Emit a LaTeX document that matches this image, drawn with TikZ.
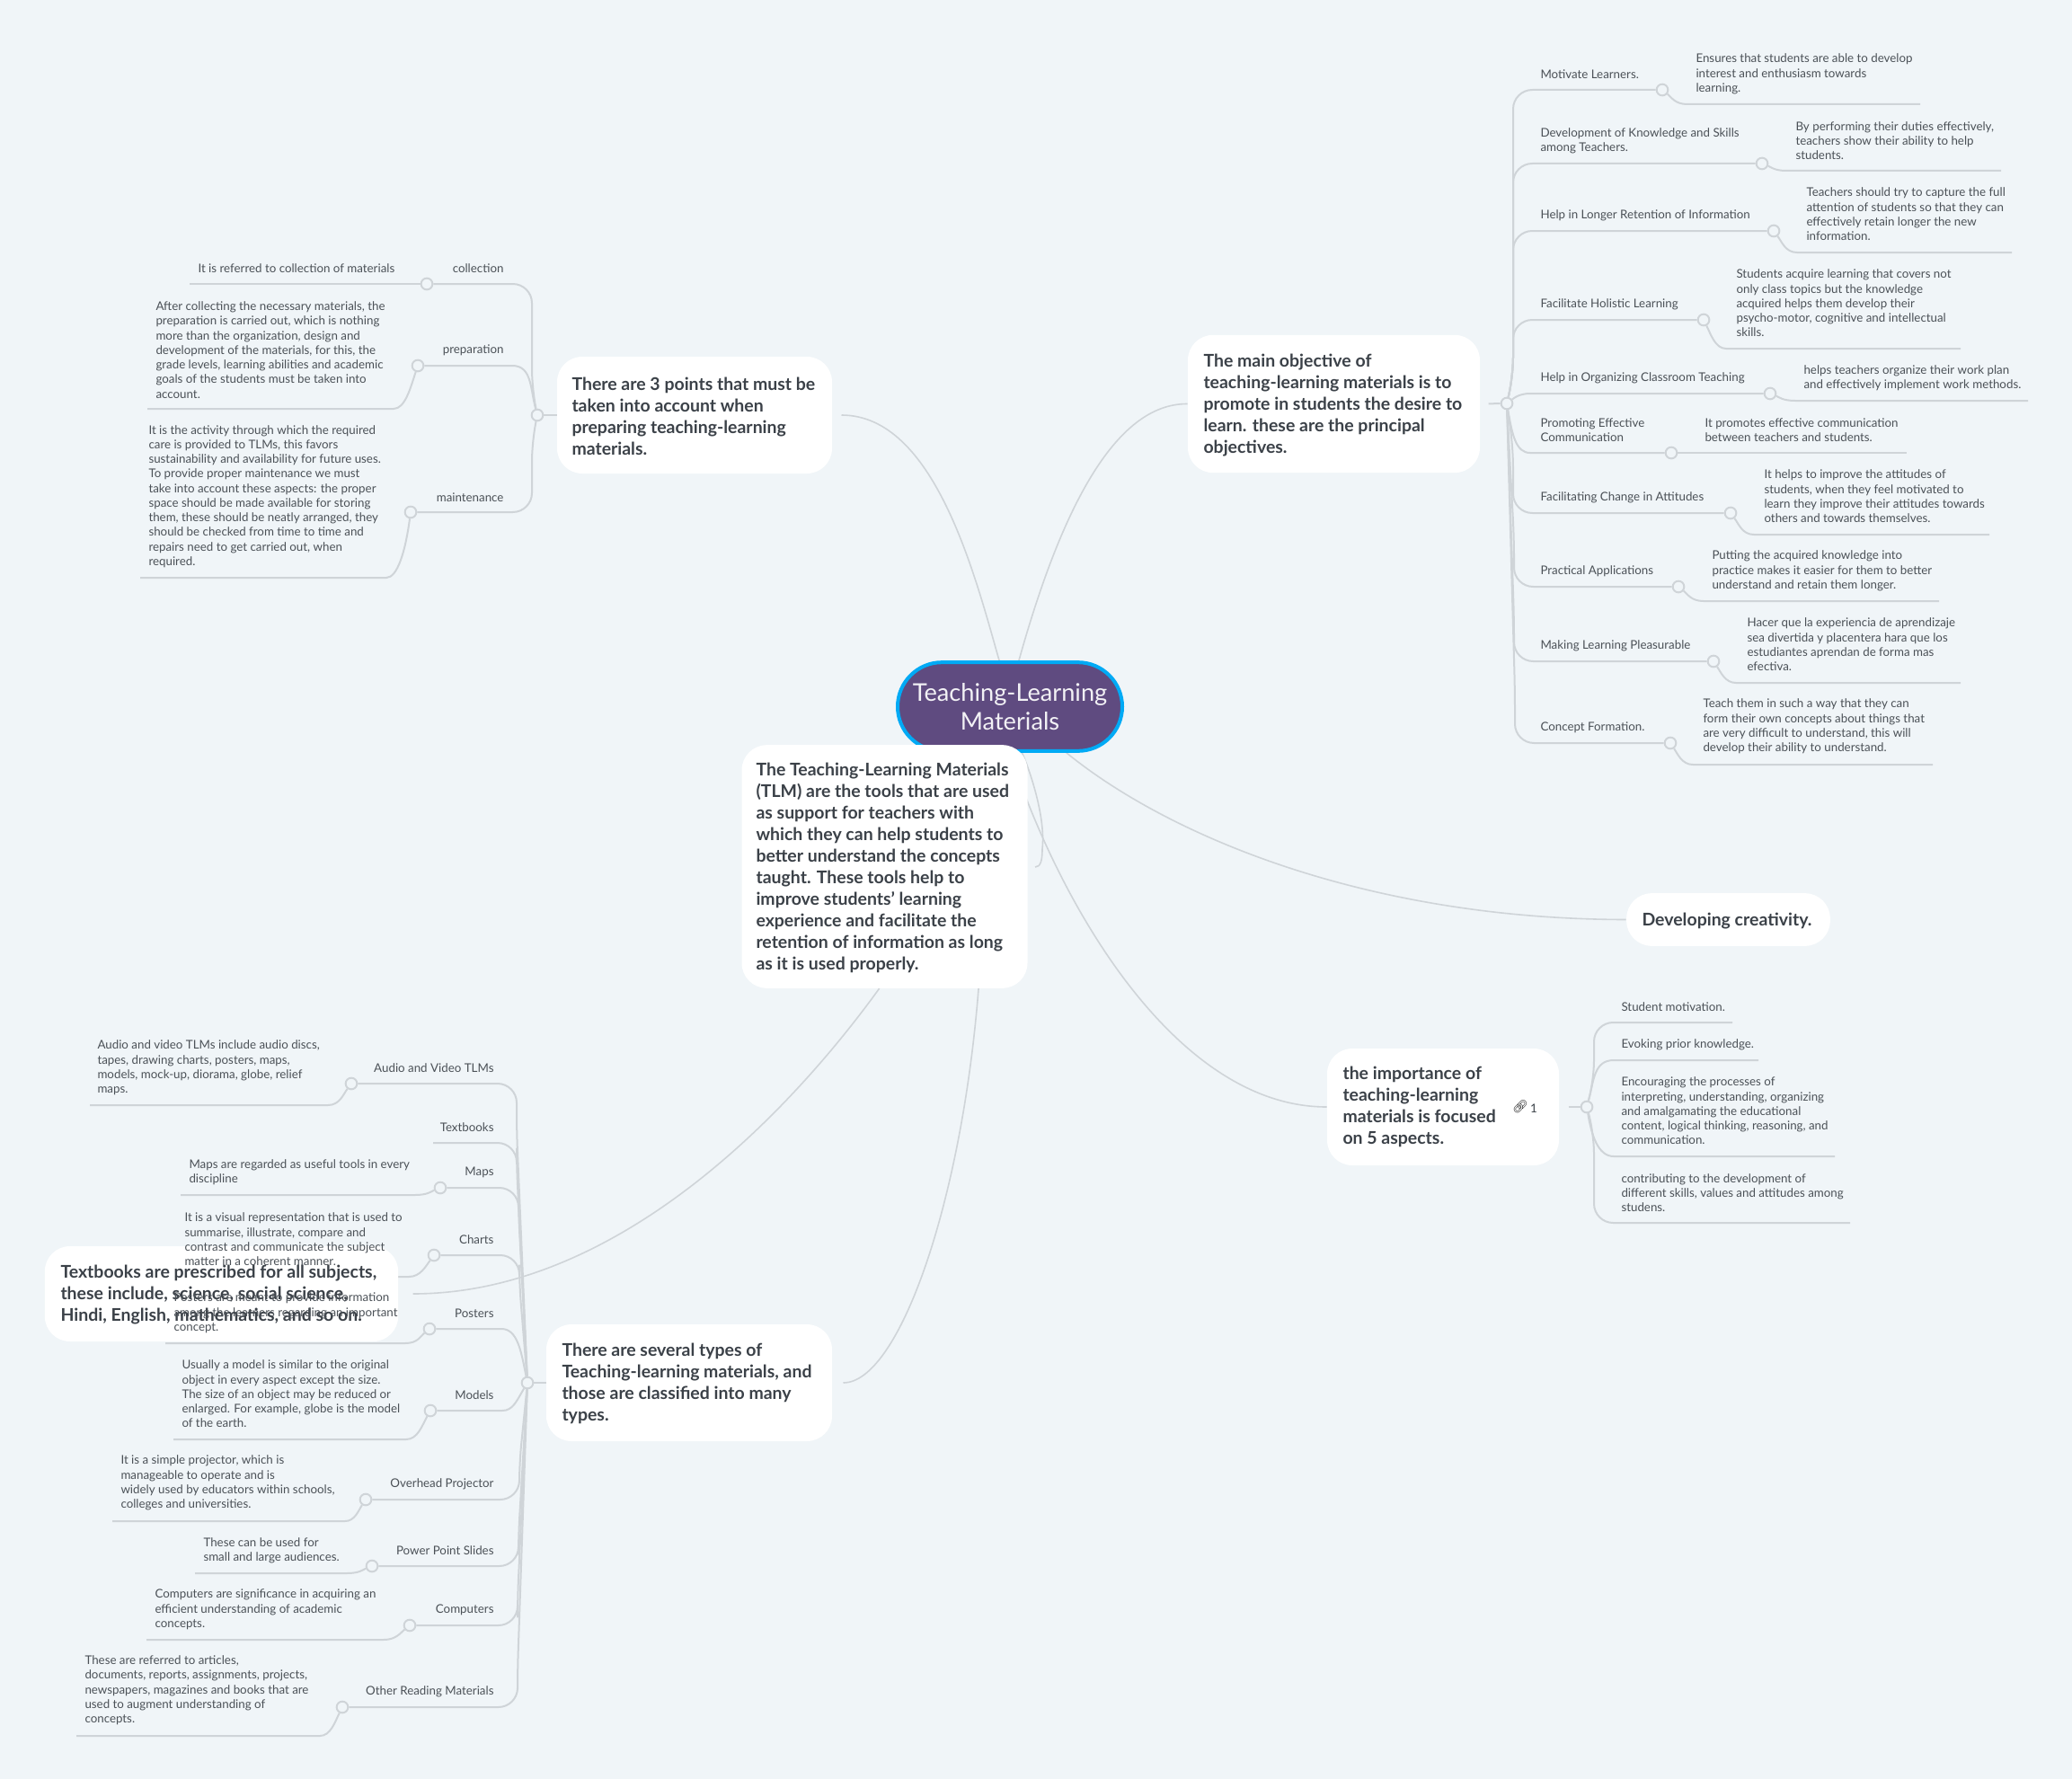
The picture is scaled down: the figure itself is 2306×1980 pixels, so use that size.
\documentclass[tikz,border=0pt]{standalone}
\usepackage{fontspec}
\setmainfont{Lato}
\newfontfamily\emojifont{Noto Emoji}
\usetikzlibrary{backgrounds}
\definecolor{paper}{HTML}{F0F5F8}
\definecolor{wire}{HTML}{CFD4D8}
\definecolor{ink}{HTML}{3B4148}
\definecolor{inksoft}{HTML}{4B5157}
\definecolor{rootfill}{HTML}{5F4B80}
\definecolor{rootedge}{HTML}{00AAF5}
\tikzset{every picture/.style={line width=0.75pt},
	branch/.style={draw=wire,line width=1.5pt},
	trunk/.style={branch,rounded corners=16pt},
	main/.style={draw=wire,line width=1.2pt},
	joint/.style={circle,draw=wire,line width=1.5pt,fill=paper,minimum size=9.5pt,inner sep=0pt},
	leaf/.style={text=inksoft,font=\fontsize{10}{12.2}\selectfont,align=left,inner sep=0pt,yshift=-1.1pt},
	label/.style={leaf,anchor=west},
	labelr/.style={leaf,anchor=east,align=right},
	topic/.style={fill=white,rounded corners=21pt,inner sep=0pt},
	caption/.style={anchor=west,text=ink,inner sep=0pt,align=left,yshift=-0.9pt,font=\fontsize{14.6}{18}\selectfont\bfseries}}

\begin{document}
\begin{tikzpicture}[x=0.75pt,y=0.75pt,yscale=-1,xscale=1]
	\useasboundingbox (0,0) rectangle (2306,1980);

	% Root Node
	\node [rounded corners=37pt,fill=rootfill,draw=rootedge,line width=3pt,minimum width=187.5pt,minimum height=74pt,align=center,text=white!92!rootfill,font=\fontsize{20.4}{24}\selectfont] (rootNode) at (1124,786.5) {Teaching-Learning\\Materials};

	% Topic Nodes
	\node [topic,minimum width=243.75pt,minimum height=115pt] (boxObj) at (1484.5,449.5) {};
	\node [topic,minimum width=229.5pt,minimum height=97.5pt] (boxPts) at (773,462) {};
	\node [topic,minimum width=238.5pt,minimum height=203pt] (boxTlm) at (984.5,964.5) {};
	\node [topic,minimum width=170pt,minimum height=44pt] (boxCre) at (1923.5,1023.5) {};
	\node [topic,minimum width=193.5pt,minimum height=97.5pt] (boxImp) at (1606,1232) {};
	\node [topic,minimum width=238.5pt,minimum height=97.5pt] (boxTyp) at (767,1539) {};
	\node [topic,minimum width=295pt,minimum height=79.5pt] (boxBks) at (246.5,1440) {};

	% Text Node
	\node [caption] (capObj) at (1339,450) {The main objective of\\teaching-learning materials is to\\promote in students the desire to\\learn. these are the principal\\objectives.};
	\node [caption] (capPts) at (636,462) {There are 3 points that must be\\taken into account when\\preparing teaching-learning\\materials.};
	\node [caption] (capTlm) at (841,964.5) {The Teaching-Learning Materials\\(TLM) are the tools that are used\\as support for teachers with\\which they can help students to\\better understand the concepts\\taught. These tools help to\\improve students' learning\\experience and facilitate the\\retention of information as long\\as it is used properly.};
	\node [caption] (capCre) at (1827,1023.5) {Developing creativity.};
	\node [caption] (capImp) at (1494,1231) {the importance of\\teaching-learning\\materials is focused\\on 5 aspects.};
	\node [caption] (capTyp) at (625,1539) {There are several types of\\Teaching-learning materials, and\\those are classified into many\\types.};
	\node [caption] (capBks) at (67,1440) {Textbooks are prescribed for all subjects,\\these include, science, social science,\\Hindi, English, mathematics, and so on.};

	% Link Marker
	\node [text=black!85,font=\fontsize{10.5}{12}\selectfont\emojifont,inner sep=0pt] (linkIcon) at (1692,1232) {🔗};
	\node [leaf,text=ink] (linkCount) at (1707,1232) {1};

	% Hub Nodes
	\node [joint] (hubObj) at (1677,449) {};
	\node [joint] (hubPts) at (598,462) {};
	\node [joint] (hubImp) at (1766,1232) {};
	\node [joint] (hubTyp) at (587,1539) {};

	% Joint Nodes
	\node [joint] (dotMotivate) at (1850,100) {};
	\node [joint] (dotDevelop) at (1961,182) {};
	\node [joint] (dotRetain) at (1974,257) {};
	\node [joint] (dotHolistic) at (1896,356) {};
	\node [joint] (dotOrganize) at (1970,438) {};
	\node [joint] (dotPromote) at (1860,504) {};
	\node [joint] (dotChange) at (1926,571) {};
	\node [joint] (dotPractical) at (1868,653) {};
	\node [joint] (dotPleasure) at (1907,736) {};
	\node [joint] (dotConcept) at (1859,827) {};
	\node [joint] (dotCollect) at (475,316) {};
	\node [joint] (dotPrepare) at (465,407) {};
	\node [joint] (dotMaintain) at (457,570) {};
	\node [joint] (dotAudio) at (391,1206) {};
	\node [joint] (dotMaps) at (490,1322) {};
	\node [joint] (dotCharts) at (483,1397) {};
	\node [joint] (dotPosters) at (478,1479) {};
	\node [joint] (dotModels) at (479,1570) {};
	\node [joint] (dotOverhead) at (407,1669) {};
	\node [joint] (dotSlides) at (414,1743) {};
	\node [joint] (dotComputers) at (456,1809) {};
	\node [joint] (dotReading) at (381,1900) {};

	% Free Line Ends
	\coordinate (endMotivate) at (2137,116);
	\coordinate (endDevelop) at (2227,190);
	\coordinate (endRetain) at (2239,281);
	\coordinate (endHolistic) at (2182,388);
	\coordinate (endOrganize) at (2257,446);
	\coordinate (endPromote) at (2122,504);
	\coordinate (endChange) at (2214,595);
	\coordinate (endPractical) at (2158,669);
	\coordinate (endPleasure) at (2182,760);
	\coordinate (endConcept) at (2151,851);
	\coordinate (endCollect) at (211,316);
	\coordinate (endPrepare) at (164,455);
	\coordinate (endMaintain) at (156,643);
	\coordinate (endAudio) at (100,1230);
	\coordinate (endBooks) at (482,1272);
	\coordinate (endMaps) at (201,1330);
	\coordinate (endCharts) at (196,1421);
	\coordinate (endPosters) at (184,1495);
	\coordinate (endModels) at (193,1602);
	\coordinate (endOverhead) at (125,1693);
	\coordinate (endSlides) at (217,1751);
	\coordinate (endComputers) at (163,1825);
	\coordinate (endReading) at (85,1932);
	\coordinate (endMotiv) at (1928,1138);
	\coordinate (endEvoke) at (1957,1180);
	\coordinate (endEncourage) at (2042,1287);
	\coordinate (endSkills) at (2059,1361);
	\coordinate (endHook) at (1152,965);

	% Text Node
	\node [label] (txtMotivate) at (1714,81) {Motivate Learners.};
	\node [label] (subMotivate) at (1887,81) {Ensures that students are able to develop\\interest and enthusiasm towards\\learning.};
	\node [label] (txtDevelop) at (1714,155) {Development of Knowledge and Skills\\among Teachers.};
	\node [label] (subDevelop) at (1998,155) {By performing their duties effectively,\\teachers show their ability to help\\students.};
	\node [label] (txtRetain) at (1714,238) {Help in Longer Retention of Information};
	\node [label] (subRetain) at (2010,237) {Teachers should try to capture the full\\attention of students so that they can\\effectively retain longer the new\\information.};
	\node [label] (txtHolistic) at (1714,337) {Facilitate Holistic Learning};
	\node [label] (subHolistic) at (1932,336) {Students acquire learning that covers not\\only class topics but the knowledge\\acquired helps them develop their\\psycho-motor, cognitive and intellectual\\skills.};
	\node [label] (txtOrganize) at (1714,419) {Help in Organizing Classroom Teaching};
	\node [label] (subOrganize) at (2007,419) {helps teachers organize their work plan\\and effectively implement work methods.};
	\node [label] (txtPromote) at (1714,477) {Promoting Effective\\Communication};
	\node [label] (subPromote) at (1897,477) {It promotes effective communication\\between teachers and students.};
	\node [label] (txtChange) at (1714,552) {Facilitating Change in Attitudes};
	\node [label] (subChange) at (1963,551) {It helps to improve the attitudes of\\students, when they feel motivated to\\learn they improve their attitudes towards\\others and towards themselves.};
	\node [label] (txtPractical) at (1714,634) {Practical Applications};
	\node [label] (subPractical) at (1905,634) {Putting the acquired knowledge into\\practice makes it easier for them to better\\understand and retain them longer.};
	\node [label] (txtPleasure) at (1714,717) {Making Learning Pleasurable};
	\node [label] (subPleasure) at (1944,716) {Hacer que la experiencia de aprendizaje\\sea divertida y placentera hara que los\\estudiantes aprendan de forma mas\\efectiva.};
	\node [label] (txtConcept) at (1714,808) {Concept Formation.};
	\node [label] (subConcept) at (1895,807) {Teach them in such a way that they can\\form their own concepts about things that\\are very difficult to understand, this will\\develop their ability to understand.};
	\node [labelr] (txtCollect) at (561,297) {collection};
	\node [label] (subCollect) at (220,297) {It is referred to collection of materials};
	\node [labelr] (txtPrepare) at (561,388) {preparation};
	\node [label] (subPrepare) at (173,388) {After collecting the necessary materials, the\\preparation is carried out, which is nothing\\more than the organization, design and\\development of the materials, for this, the\\grade levels, learning abilities and academic\\goals of the students must be taken into\\account.};
	\node [labelr] (txtMaintain) at (561,552) {maintenance};
	\node [label] (subMaintain) at (165,551) {It is the activity through which the required\\care is provided to TLMs, this favors\\sustainability and availability for future uses.\\To provide proper maintenance we must\\take into account these aspects: the proper\\space should be made available for storing\\them, these should be neatly arranged, they\\should be checked from time to time and\\repairs need to get carried out, when\\required.};
	\node [labelr] (txtAudio) at (550,1187) {Audio and Video TLMs};
	\node [label] (subAudio) at (108,1187) {Audio and video TLMs include audio discs,\\tapes, drawing charts, posters, maps,\\models, mock-up, diorama, globe, relief\\maps.};
	\node [labelr] (txtBooks) at (550,1253) {Textbooks};
	\node [labelr] (txtMaps) at (550,1303) {Maps};
	\node [label] (subMaps) at (210,1303) {Maps are regarded as useful tools in every\\discipline};
	\node [labelr] (txtCharts) at (550,1378) {Charts};
	\node [label] (subCharts) at (205,1378) {It is a visual representation that is used to\\summarise, illustrate, compare and\\contrast and communicate the subject\\matter in a coherent manner.};
	\node [labelr] (txtPosters) at (550,1460) {Posters};
	\node [label] (subPosters) at (193,1460) {Posters are meant to provide information\\among the learners regarding an important\\concept.};
	\node [labelr] (txtModels) at (550,1551) {Models};
	\node [label] (subModels) at (202,1550) {Usually a model is similar to the original\\object in every aspect except the size.\\The size of an object may be reduced or\\enlarged. For example, globe is the model\\of the earth.};
	\node [labelr] (txtOverhead) at (550,1650) {Overhead Projector};
	\node [label] (subOverhead) at (134,1649) {It is a simple projector, which is\\manageable to operate and is\\widely used by educators within schools,\\colleges and universities.};
	\node [labelr] (txtSlides) at (550,1724) {Power Point Slides};
	\node [label] (subSlides) at (226,1724) {These can be used for\\small and large audiences.};
	\node [labelr] (txtComputers) at (550,1790) {Computers};
	\node [label] (subComputers) at (172,1790) {Computers are significance in acquiring an\\efficient understanding of academic\\concepts.};
	\node [labelr] (txtReading) at (550,1881) {Other Reading Materials};
	\node [label] (subReading) at (94,1880) {These are referred to articles,\\documents, reports, assignments, projects,\\newspapers, magazines and books that are\\used to augment understanding of\\concepts.};
	\node [label] (txtMotiv) at (1804,1119) {Student motivation.};
	\node [label] (txtEvoke) at (1804,1161) {Evoking prior knowledge.};
	\node [label] (txtEncourage) at (1804,1235) {Encouraging the processes of\\interpreting, understanding, organizing\\and amalgamating the educational\\content, logical thinking, reasoning, and\\communication.};
	\node [label] (txtSkills) at (1804,1326) {contributing to the development of\\different skills, values and attitudes among\\studens.};

	\begin{scope}[on background layer]
		\fill [paper] (0,0) rectangle (2306,1980);

		%Curve Lines
		\draw [main] (boxPts.east) ++(10,0) .. controls (1040,462) and (1085,640) .. (1112,735) -- (rootNode);
		\draw [main] (boxObj.west) .. controls (1240,449) and (1180,570) .. (1134,735) -- (rootNode);
		\draw [main] (rootNode) .. controls (1135,830) and (1165,900) .. (1160,945) .. controls (1160,958) and (1158,965) .. (endHook);
		\draw [main] (rootNode) .. controls (1300,930) and (1520,1023) .. (boxCre.west);
		\draw [main] (rootNode.south) .. controls (1180,1010) and (1310,1232) .. (boxImp.west);
		\draw [main] (boxBks.east) ++(16,0) .. controls (680,1440) and (870,1250) .. (978,1101) -- (rootNode);
		\draw [main] (boxTyp.east) ++(12,0) .. controls (1000,1539) and (1070,1340) .. (1089,1101) -- (rootNode);

		%Straight Lines
		\draw [branch,shorten <=6.75pt] (boxObj.east) -- (hubObj);
		\draw [branch] (boxPts.west) -- (hubPts);
		\draw [branch,shorten <=7.5pt] (boxImp.east) -- (hubImp);
		\draw [branch] (boxTyp.west) -- (hubTyp);

		%Branch Lines
		\draw [trunk] (hubObj) -- ++(7,-30) |- (dotMotivate);
		\draw [trunk] (hubObj) -- ++(7,-30) |- (dotDevelop);
		\draw [trunk] (hubObj) -- ++(7,-30) |- (dotRetain);
		\draw [trunk] (hubObj) -- ++(7,-30) |- (dotHolistic);
		\draw [branch] (hubObj) .. controls +(8,-6) and +(-12,0) .. (1703,438) -- (dotOrganize);
		\draw [branch] (hubObj) .. controls +(6,35) and +(-16,0) .. (1703,504) -- (dotPromote);
		\draw [trunk] (hubObj) -- ++(7,50) |- (dotChange);
		\draw [trunk] (hubObj) -- ++(8,150) |- (dotPractical);
		\draw [trunk] (hubObj) -- ++(8,240) |- (dotPleasure);
		\draw [trunk] (hubObj) -- ++(9,320) |- (dotConcept);

		\draw [branch] (dotMotivate) .. controls +(10,8) and +(-14,0) .. (1878,116) -- (endMotivate);
		\draw [branch] (dotDevelop) .. controls +(10,4) and +(-13,0) .. (1988,190) -- (endDevelop);
		\draw [branch] (dotRetain) .. controls +(9,12) and +(-13,0) .. (2000,281) -- (endRetain);
		\draw [branch] (dotHolistic) .. controls +(8,16) and +(-12,0) .. (1921,388) -- (endHolistic);
		\draw [branch] (dotOrganize) .. controls +(10,4) and +(-14,0) .. (1998,446) -- (endOrganize);
		\draw [branch] (dotPromote) -- (endPromote);
		\draw [branch] (dotChange) .. controls +(9,12) and +(-13,0) .. (1952,595) -- (endChange);
		\draw [branch] (dotPractical) .. controls +(10,8) and +(-14,0) .. (1896,669) -- (endPractical);
		\draw [branch] (dotPleasure) .. controls +(8,12) and +(-12,0) .. (1932,760) -- (endPleasure);
		\draw [branch] (dotConcept) .. controls +(8,12) and +(-12,0) .. (1884,851) -- (endConcept);

		\draw [trunk] (hubPts) -- ++(-6,-30) |- (dotCollect);
		\draw [branch] (hubPts) .. controls +(-8,-30) and +(22,0) .. (570,407) -- (dotPrepare);
		\draw [trunk] (hubPts) -- ++(-6,30) |- (dotMaintain);
		\draw [branch] (dotCollect) -- (endCollect);
		\draw [branch] (dotPrepare) .. controls +(-8,24) and +(13,0) .. (438,455) -- (endPrepare);
		\draw [branch] (dotMaintain) .. controls +(-6,45) and +(12,0) .. (430,643) -- (endMaintain);

		\draw [trunk] (hubTyp) -- ++(-12,-280) |- (dotAudio);
		\draw [trunk] (hubTyp) -- ++(-12,-240) |- (endBooks);
		\draw [trunk] (hubTyp) -- ++(-10,-190) |- (dotMaps);
		\draw [trunk] (hubTyp) -- ++(-9,-110) |- (dotCharts);
		\draw [branch] (hubTyp) .. controls +(-7,-35) and +(18,0) .. (558,1479) -- (dotPosters);
		\draw [branch] (hubTyp) .. controls +(-12,20) and +(12,0) .. (559,1570) -- (dotModels);
		\draw [trunk] (hubTyp) -- ++(-9,90) |- (dotOverhead);
		\draw [trunk] (hubTyp) -- ++(-10,170) |- (dotSlides);
		\draw [trunk] (hubTyp) -- ++(-11,240) |- (dotComputers);
		\draw [trunk] (hubTyp) -- ++(-11,320) |- (dotReading);

		\draw [branch] (dotAudio) .. controls +(-9,12) and +(13,0) .. (365,1230) -- (endAudio);
		\draw [branch] (dotMaps) .. controls +(-10,4) and +(14,0) .. (462,1330) -- (endMaps);
		\draw [branch] (dotCharts) .. controls +(-9,12) and +(13,0) .. (455,1421) -- (endCharts);
		\draw [branch] (dotPosters) .. controls +(-10,8) and +(14,0) .. (451,1495) -- (endPosters);
		\draw [branch] (dotModels) .. controls +(-9,16) and +(13,0) .. (452,1602) -- (endModels);
		\draw [branch] (dotOverhead) .. controls +(-8,12) and +(11,0) .. (384,1693) -- (endOverhead);
		\draw [branch] (dotSlides) .. controls +(-10,4) and +(14,0) .. (386,1751) -- (endSlides);
		\draw [branch] (dotComputers) .. controls +(-10,8) and +(14,0) .. (427,1825) -- (endComputers);
		\draw [branch] (dotReading) .. controls +(-8,16) and +(12,0) .. (356,1932) -- (endReading);

		\draw [trunk] (hubImp) -- ++(8,-30) |- (endMotiv);
		\draw [branch] (hubImp) .. controls +(8,-30) and +(-22,0) .. (1796,1180) -- (endEvoke);
		\draw [branch] (hubImp) .. controls +(5,30) and +(-18,0) .. (1796,1287) -- (endEncourage);
		\draw [trunk] (hubImp) -- ++(8,30) |- (endSkills);
	\end{scope}
\end{tikzpicture}
\end{document}
